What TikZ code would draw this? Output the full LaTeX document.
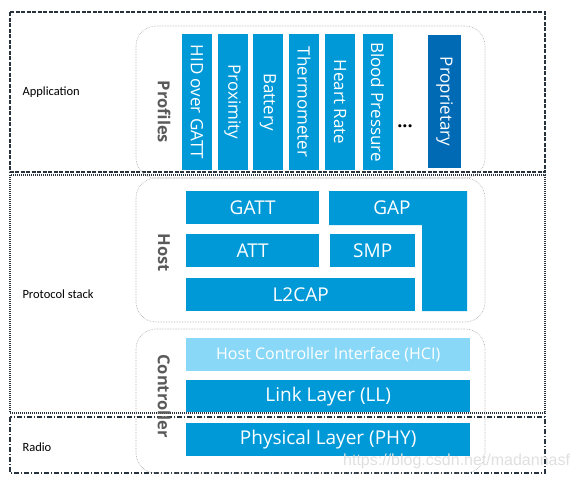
\documentclass[tikz,border=0pt]{standalone}
\usepackage{fontspec}
\setmainfont{Open Sans}
\newfontfamily\sidefont{Carlito}
\newfontfamily\markfont{Liberation Sans}
\usepackage{tikz}
\usetikzlibrary{positioning, calc}
\definecolor{bleBlue}{RGB}{0, 153, 216}
\definecolor{bleDark}{RGB}{0, 106, 180}
\definecolor{bleLight}{RGB}{138, 216, 248}
\definecolor{bleGray}{RGB}{90, 90, 90}
\definecolor{bleLine}{RGB}{40, 50, 60}
\tikzset{
    layer/.style={
        rectangle,
        fill=bleBlue,
        text=white,
        inner sep=0pt
    },
    profile/.style={
        layer,
        rotate=-90,
        font=\fontsize{17}{19}\selectfont
    },
    stackbox/.style={
        layer,
        anchor=north west,
        font=\fontsize{19}{21}\selectfont
    },
    group/.style={
        draw=gray!70,
        densely dotted,
        line width=0.6pt,
        rounded corners=20pt
    },
    grouplabel/.style={
        font=\bfseries\fontsize{16.5}{19}\selectfont,
        text=bleGray,
        rotate=-90
    },
    sidelabel/.style={
        font=\sidefont\fontsize{12.5}{14}\selectfont,
        anchor=west
    }
}

\begin{document}
\begin{tikzpicture}[x=1pt, y=-1pt]
    \useasboundingbox (0,0) rectangle (576,479);

    % Outer regions
    \draw[bleLine, line width=1.1pt, dash pattern=on 4pt off 1.5pt] (10,12) rectangle (545,172);
    \draw[bleLine, line width=1.1pt, dash pattern=on 1pt off 1pt] (10,175) rectangle (545,413);
    \draw[bleLine, line width=1.1pt, dash pattern=on 5pt off 2pt on 1pt off 2pt] (10,417) rectangle (545,473);
    \node[sidelabel] (app) at (19,92) {Application};
    \node[sidelabel] (stack) at (19,294) {Protocol stack};
    \node[sidelabel] (radio) at (19,447) {Radio};

    % Rounded groups
    \draw[group] (136,26) rectangle (485,178);
    \draw[group] (136,178) rectangle (485,322);
    \draw[group] (136,329) rectangle (485,473);
    \node[grouplabel] (profiles) at (164,112) {Profiles};
    \node[grouplabel] (host) at (164,253) {Host};
    \node[grouplabel] (ctrl) at (164,396) {Controller};

    % Profiles
    \foreach \name/\x/\txt in {hid/197/HID over GATT, prox/232.5/Proximity,
        batt/268/Battery, thermo/304/Thermometer, heart/340/Heart Rate,
        blood/377.5/Blood Pressure}{
        \node[profile, minimum width=136pt, minimum height=30pt] (\name) at (\x,102) {\txt};
    }
    \node[font=\bfseries\fontsize{18}{20}\selectfont, anchor=base] (dots) at (405,127) {...};
    \node[profile, fill=bleDark, minimum width=133pt, minimum height=33pt] (prop) at (444.5,101.5) {Proprietary};

    % Host
    \node[stackbox, minimum width=133pt, minimum height=33pt] (gatt) at (186,191) {GATT};
    \node[stackbox, minimum width=133pt, minimum height=33pt] (att) at (186,234) {ATT};
    \node[stackbox, minimum width=85pt, minimum height=33pt] (smp) at (330,234) {SMP};
    \node[stackbox, minimum width=229pt, minimum height=33pt] (l2cap) at (186,278) {L2CAP};
    \fill[bleBlue] (329,191) -| (467,311) -| (422,225) -| cycle;
    \node[stackbox, anchor=center, fill=none] (gap) at (392,208) {GAP};

    % Controller
    \node[stackbox, fill=bleLight, minimum width=284pt, minimum height=33pt,
        font=\fontsize{16}{18}\selectfont] (hci) at (186,338) {Host Controller Interface (HCI)};
    \node[stackbox, minimum width=284pt, minimum height=32pt] (ll) at (186,380) {Link Layer (LL)};
    \node[stackbox, minimum width=284pt, minimum height=33pt] (phy) at (186,423) {Physical Layer (PHY)};

    % Watermark
    \node[font=\markfont\fontsize{16}{18}\selectfont, text=gray!25, anchor=west, inner sep=0pt] (mark) at (343,461) {https://blog.csdn.net/madannasf};
\end{tikzpicture}
\end{document}
